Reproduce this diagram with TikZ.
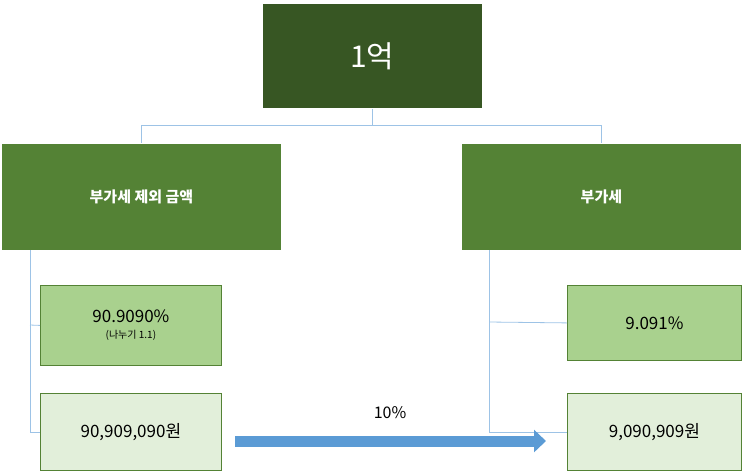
\documentclass[tikz,border=0pt]{standalone}
\usepackage{fontspec}
\setmainfont{Noto Sans CJK KR}
\usetikzlibrary{arrows.meta}
\definecolor{dk}{HTML}{375623}
\definecolor{md}{HTML}{548235}
\definecolor{lt}{HTML}{A9D18E}
\definecolor{vl}{HTML}{E2EFDA}
\definecolor{ln}{HTML}{9DC3E6}
\definecolor{ar}{HTML}{5B9BD5}
\begin{document}
\begin{tikzpicture}[x=1pt,y=-1pt,
 box/.style={draw=#1,line width=0.8pt,anchor=north west,inner sep=0pt,align=center},
 conn/.style={draw=ln,line width=0.8pt}]
\useasboundingbox (0,0) rectangle (743,475);
\node[box=white,fill=dk,minimum width=220pt,minimum height=105pt,text=white,font=\fontsize{30}{32}\selectfont] (top) at (262,3) {1억};
\node[box=white,fill=md,minimum width=280pt,minimum height=107pt,text=white,font=\fontsize{15}{18}\selectfont\bfseries] (l) at (1,143) {부가세 제외 금액};
\node[box=white,fill=md,minimum width=280pt,minimum height=107pt,text=white,font=\fontsize{15}{18}\selectfont\bfseries] (r) at (461,143) {부가세};
\node[box=md,fill=lt,minimum width=181pt,minimum height=80pt] (l1) at (40,285) {\fontsize{17}{22}\selectfont 90.9090\%\\[4pt]\fontsize{10}{12}\selectfont (나누기 1.1)};
\node[box=md,fill=vl,minimum width=181pt,minimum height=77pt,font=\fontsize{17}{20}\selectfont] (l2) at (40,393) {90,909,090원};
\node[box=md,fill=lt,minimum width=174pt,minimum height=75pt,font=\fontsize{17}{20}\selectfont] (r1) at (567,285) {9.091\%};
\node[box=md,fill=vl,minimum width=174pt,minimum height=77pt,font=\fontsize{17}{20}\selectfont] (r2) at (567,393) {9,090,909원};
\draw[conn] (top.south) -- ++(0,17) -| (l.north);
\draw[conn] (top.south) -- ++(0,17) -| (r.north);
\draw[conn] (30,250) |- (l2.west);
\draw[conn] (30,325) -- (l1.west);
\draw[conn] (489,250) |- (r2.west);
\draw[conn] (489,322) -- (r1.west);
\coordinate (a1) at (235,441);
\coordinate (a2) at (546,441);
\draw[ar,line width=11pt,-{Triangle[length=12pt,width=22pt]}] (a1) -- (a2);
\node[font=\fontsize{16}{18}\selectfont] (p) at (390,413) {10\%};
\end{tikzpicture}
\end{document}
